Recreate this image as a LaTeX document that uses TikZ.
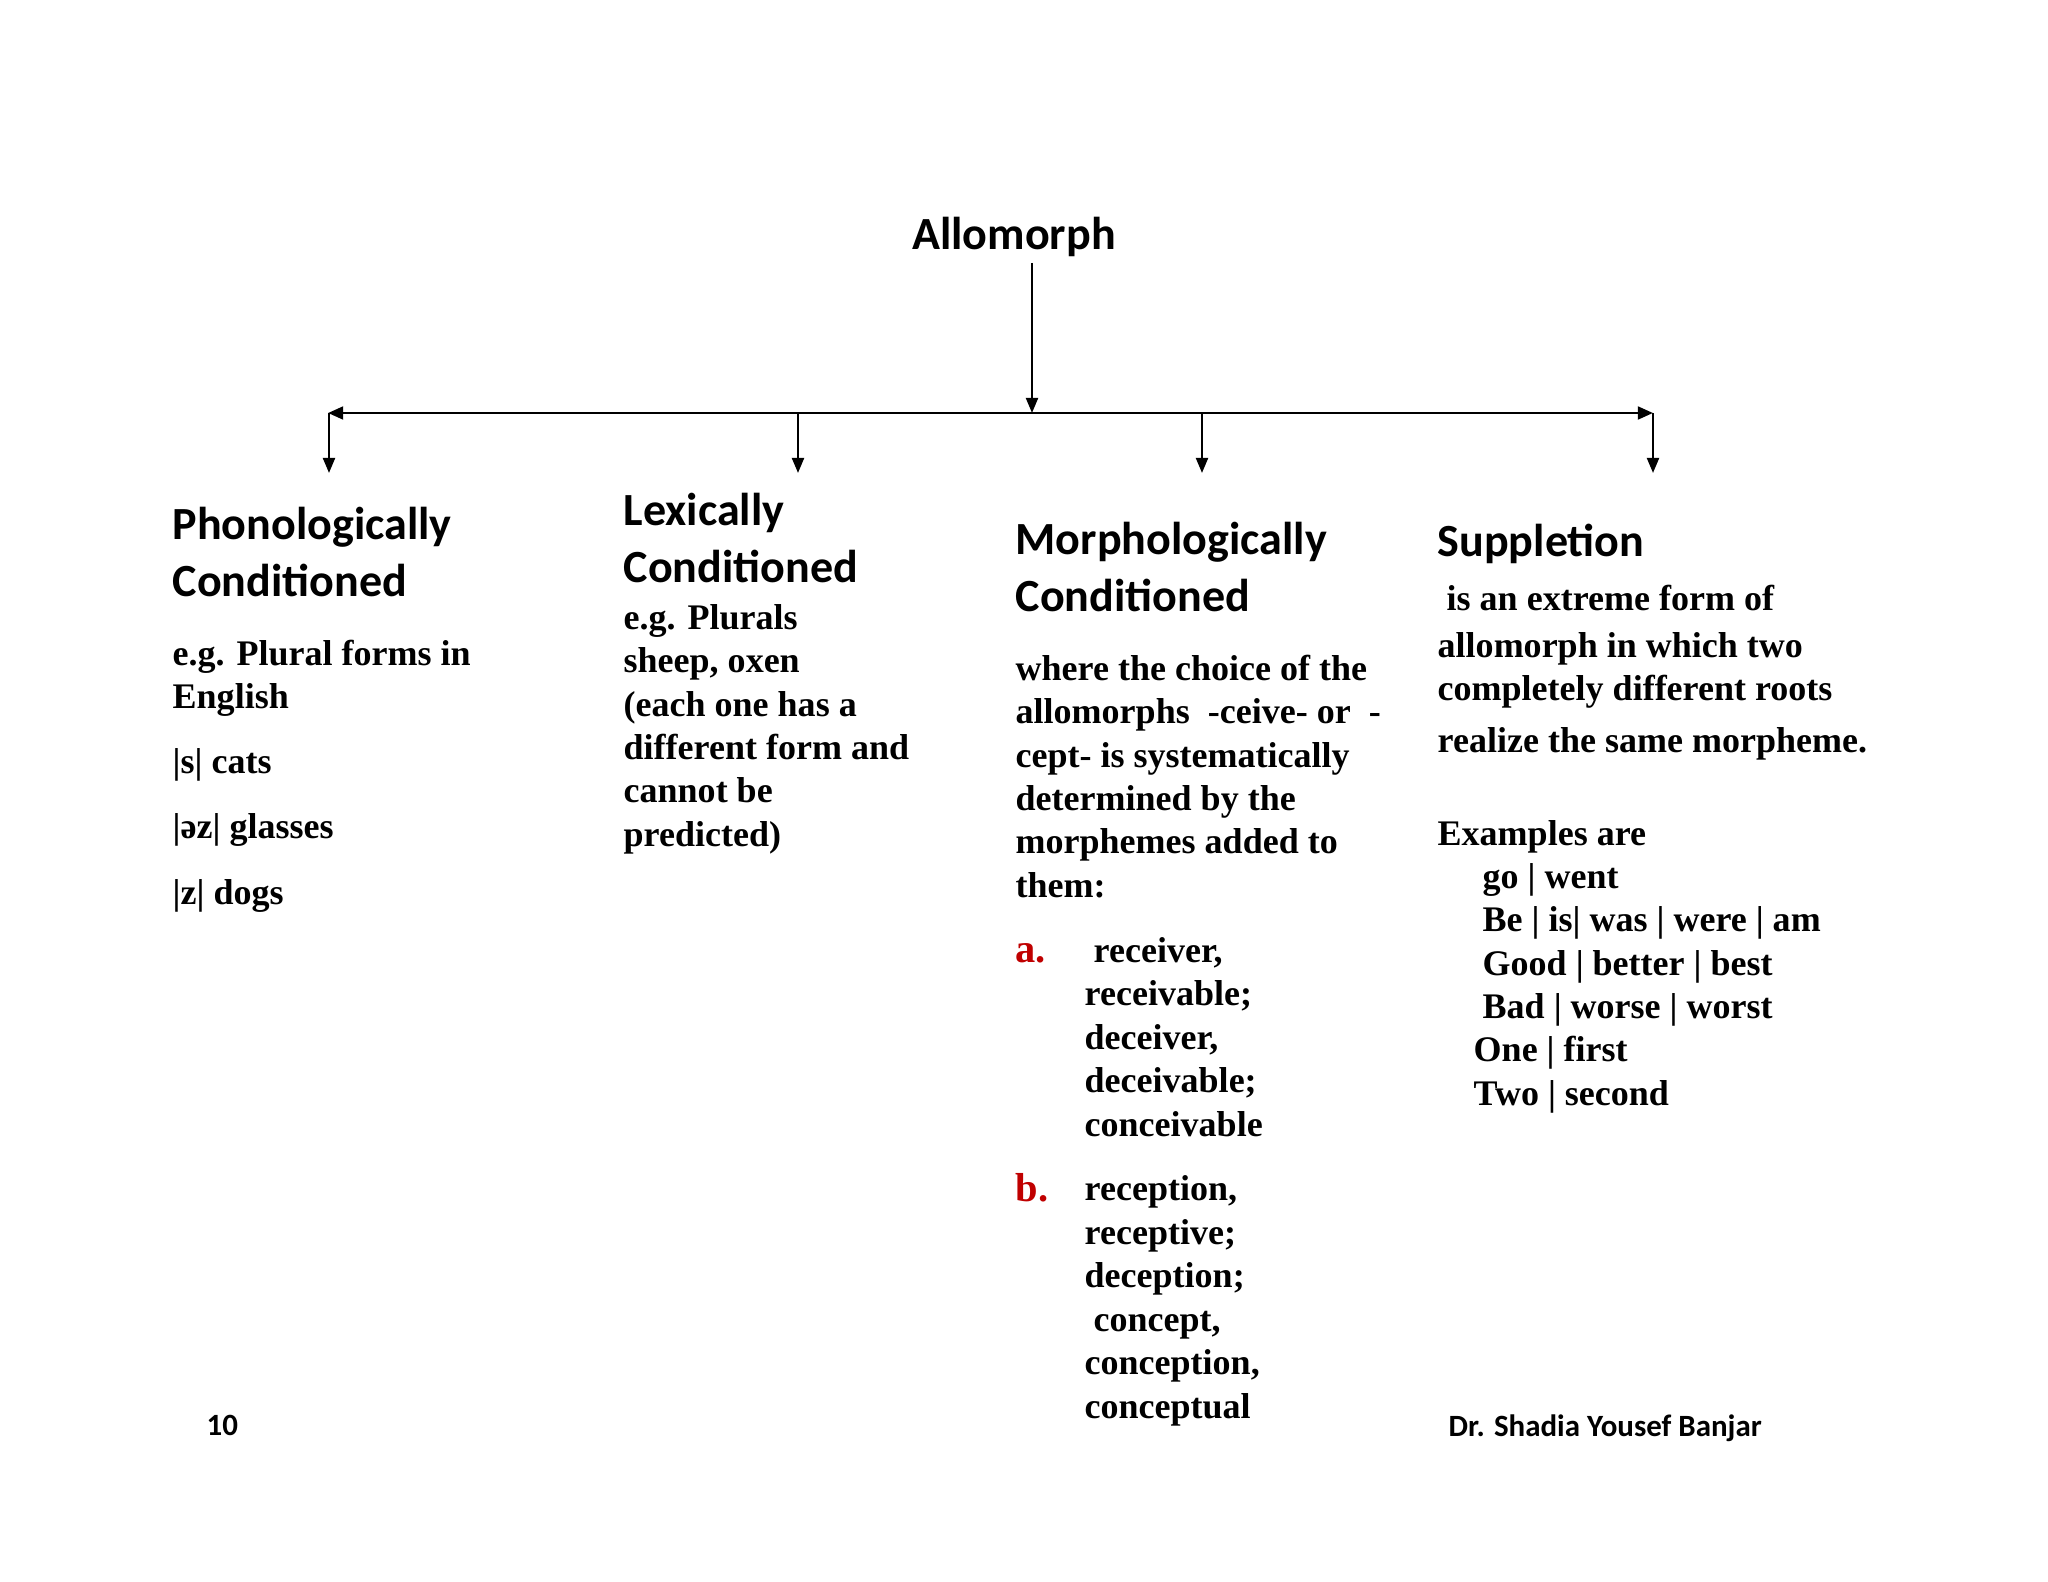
\documentclass[tikz,border=0pt]{standalone}
\usepackage{fontspec}
\setmainfont{Liberation Serif}
\newfontfamily\headfont{Carlito}
\usetikzlibrary{arrows.meta}
\definecolor{itemred}{HTML}{C00000}
\begin{document}
\begin{tikzpicture}[x=0.01cm,y=-0.01cm,
  head/.style={font=\headfont\bfseries\fontsize{13.1}{15.93}\selectfont, align=left, anchor=base west, inner sep=0pt},
  body/.style={font=\bfseries\fontsize{10.24}{12.32}\selectfont, align=left, anchor=base west, inner sep=0pt},
  listtext/.style={body, font=\bfseries\fontsize{10.24}{12.35}\selectfont},
  marker/.style={font=\bfseries\fontsize{11.5}{13}\selectfont, text=itemred, anchor=base west, inner sep=0pt},
  foot/.style={font=\headfont\bfseries\fontsize{8.8}{10}\selectfont, anchor=base west, inner sep=0pt},
  conn/.style={line width=0.7pt, -{Triangle[length=4.3pt,width=3.4pt]}},
  bus/.style={line width=0.8pt, {Triangle[length=4.3pt,width=3.6pt]}-{Triangle[length=4.3pt,width=3.6pt]}}
]
\fill[white] (0,0) rectangle (2048,1582);
\useasboundingbox (0,0) rectangle (2048,1582);

% root
\node[head, anchor=base] (allo) at (1014,250) {Allomorph};

% connectors
\coordinate (top) at (1032,263);
\coordinate (jc) at (1032,413);
\coordinate (bl) at (328,413);
\coordinate (br) at (1653,413);
\draw[bus] (bl) -- (br);
\draw[conn] (top) -- (jc);
\coordinate (s1) at (329,413);  \coordinate (e1) at (329,473);
\coordinate (s2) at (798,413);  \coordinate (e2) at (798,473);
\coordinate (s3) at (1202,413); \coordinate (e3) at (1202,473);
\coordinate (s4) at (1653,413); \coordinate (e4) at (1653,473);
\draw[conn] (s1) -- (e1);
\draw[conn] (s2) -- (e2);
\draw[conn] (s3) -- (e3);
\draw[conn] (s4) -- (e4);

% column 1 (anchors at the baseline of the last line)
\node[head] (phon) at (172,596) {Phonologically\\Conditioned};
\node[body] (phonb) at (172,904) {e.g. Plural forms in\\English\\[6.17pt]|s| cats\\[6.17pt]|əz| glasses\\[6.17pt]|z| dogs};

% column 2
\node[head] (lex) at (623,582) {Lexically\\Conditioned};
\node[body] (lexb) at (623,846) {e.g. Plurals\\sheep, oxen\\(each one has a\\different form and\\cannot be\\predicted)};

% column 3
\node[head] (morph) at (1015,611) {Morphologically\\Conditioned};
\node[body] (morphb) at (1015,897) {where the choice of the\\allomorphs\ \ -ceive- or\ \ -\\cept- is systematically\\determined by the\\morphemes added to\\them:};
\node[marker] (ma) at (1015,962) {a.};
\node[listtext] (la) at (1084,1136) {\ receiver,\\receivable;\\deceiver,\\deceivable;\\conceivable};
\node[marker] (mb) at (1015,1201) {b.};
\node[listtext] (lb) at (1084,1418) {reception,\\receptive;\\deception;\\\ concept,\\conception,\\conceptual};

% column 4
\node[head] (supp) at (1437,556) {Suppletion};
\node[body] (suppb) at (1437,845) {\ is an extreme form of\\[1.05pt]allomorph in which two\\completely different roots\\[2.48pt]realize the same morpheme.\\[13.86pt]Examples are};
\node[body] (ex) at (1473,1105) {\ go | went\\\ Be | is| was | were | am\\\ Good | better | best\\\ Bad | worse | worst\\One | first\\Two | second};

% footer
\node[foot] (pg) at (206,1435) {10};
\node[foot] (auth) at (1448,1436) {Dr. Shadia Yousef Banjar};
\end{tikzpicture}
\end{document}
